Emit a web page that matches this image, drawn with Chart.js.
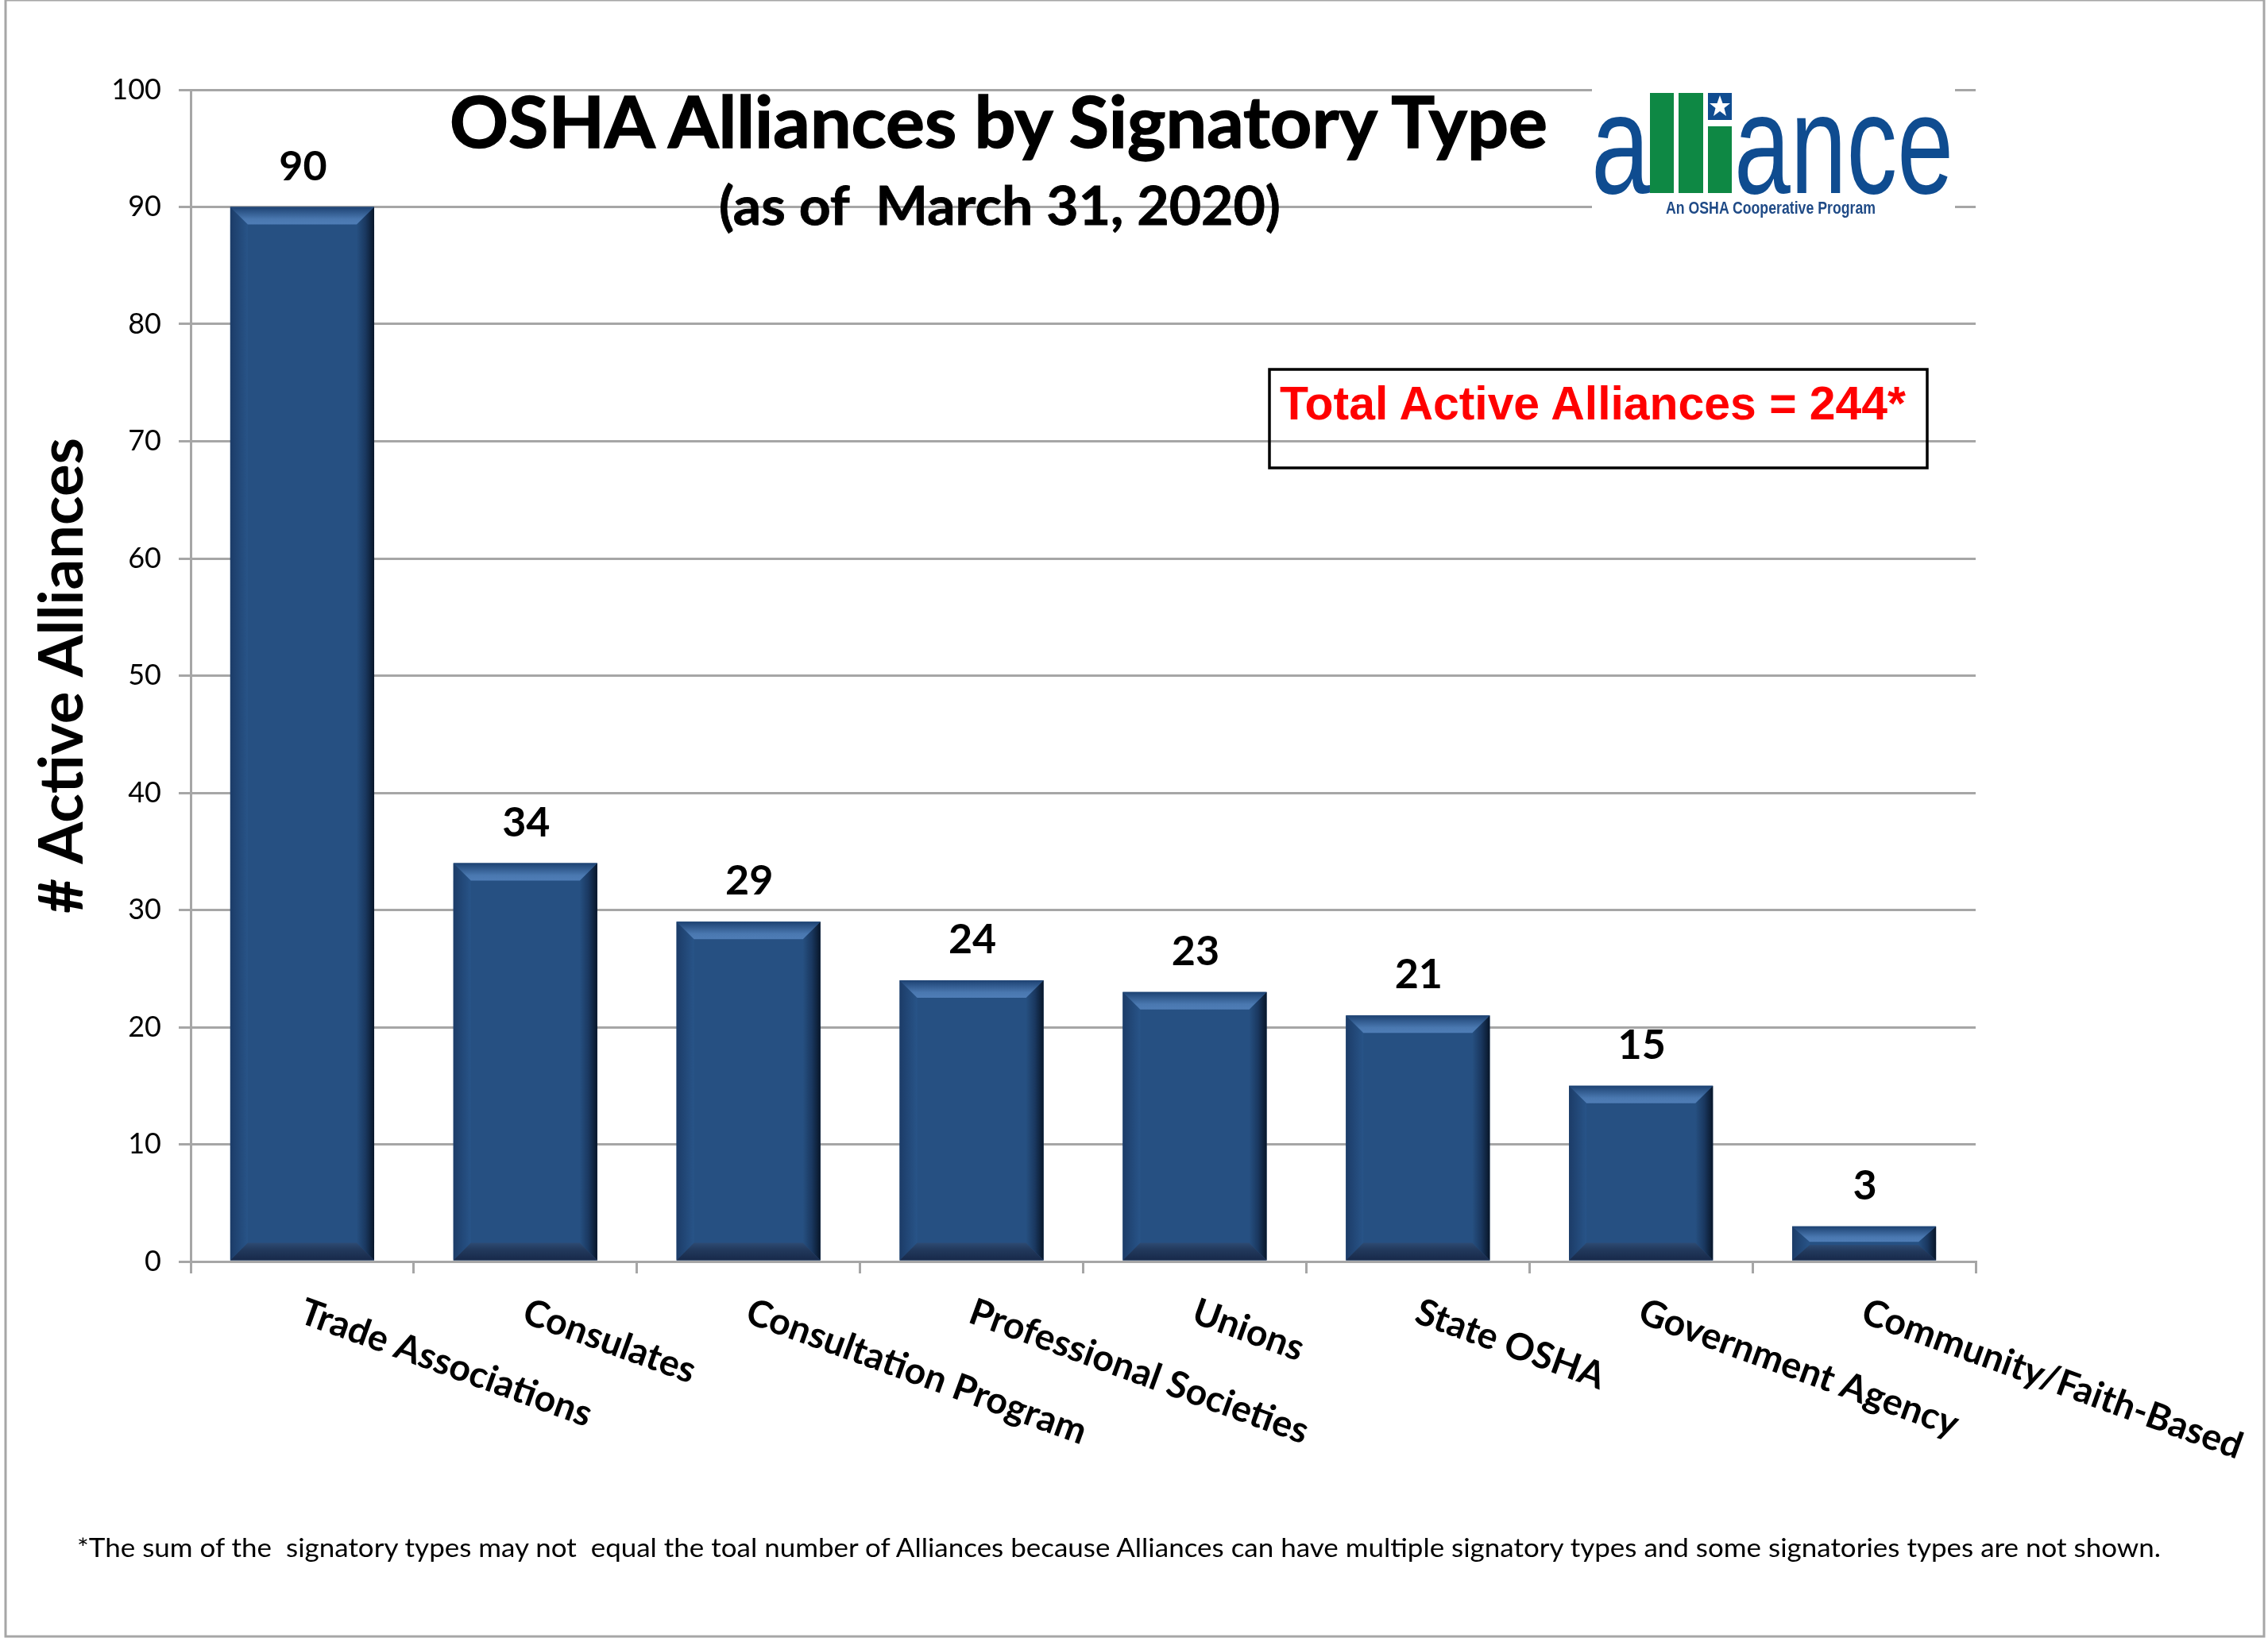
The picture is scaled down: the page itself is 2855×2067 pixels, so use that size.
<!DOCTYPE html>
<html>
<head>
<meta charset="utf-8">
<title>OSHA Alliances by Signatory Type</title>
<script src="https://cdn.jsdelivr.net/npm/chart.js@4/dist/chart.umd.min.js"></script>
<style>
html, body { margin: 0; padding: 0; background: #fff; }
#wrap { position: relative; width: 2855px; height: 2067px; overflow: hidden; }
#myChart { position: absolute; left: 0; top: 0; }
#notes { position: absolute; left: 0; top: 0; }
#notes text { white-space: pre; }
</style>
</head>
<body>
<div id="wrap">
<canvas id="myChart" width="2855" height="2067"></canvas>
<svg id="notes" width="2855" height="2067" xmlns="http://www.w3.org/2000/svg">
  <rect x="7" y="0" width="2843" height="2060" fill="none" stroke="#a6a6a6" stroke-width="3"/>

  <text x="566" y="186" font-family="Lato" font-weight="700" font-size="90" fill="#000" stroke="#000" stroke-width="1.4" textLength="1382" lengthAdjust="spacingAndGlyphs">OSHA Alliances by Signatory Type</text>
  <text x="905" y="283" font-family="Lato" font-weight="700" font-size="66" fill="#000" stroke="#000" stroke-width="0.8" textLength="707" lengthAdjust="spacingAndGlyphs">(as of  March 31, 2020)</text>

  <rect x="2004" y="105" width="457" height="180" fill="#fff"/>
  <text x="2003" y="243" font-family="Liberation Sans" font-size="178" fill="#0f4c90" textLength="74" lengthAdjust="spacingAndGlyphs">a</text>
  <rect x="2077" y="117" width="30" height="126" fill="#0e8844"/>
  <rect x="2113" y="117" width="31" height="126" fill="#0e8844"/>
  <rect x="2150" y="159" width="30" height="84" fill="#0e8844"/>
  <rect x="2150" y="117" width="30" height="34" fill="#0f4c90"/>
  <polygon points="2165,120 2168.5,130 2178,130 2170.5,136 2173,146 2165,140 2157,146 2159.5,136 2152,130 2161.5,130" fill="#fff"/>
  <text x="2183" y="243" font-family="Liberation Sans" font-size="178" fill="#0f4c90" textLength="276" lengthAdjust="spacingAndGlyphs">ance</text>
  <text x="2097" y="269" font-family="Liberation Sans" font-weight="700" font-size="22" fill="#1f4a86" textLength="264" lengthAdjust="spacingAndGlyphs">An OSHA Cooperative Program</text>

  <rect x="1598" y="465" width="828" height="124" fill="none" stroke="#000" stroke-width="3.5"/>
  <text x="1611" y="528" font-family="Liberation Sans" font-weight="700" font-size="59" fill="#ff0000" textLength="788" lengthAdjust="spacingAndGlyphs">Total Active Alliances = 244*</text>

  <text x="97" y="1960" font-family="Lato" font-size="33" fill="#000" textLength="2623" lengthAdjust="spacingAndGlyphs">*The sum of the  signatory types may not  equal the toal number of Alliances because Alliances can have multiple signatory types and some signatories types are not shown.</text>
</svg>
</div>
<script>
var categories = ['Trade Associations', 'Consulates', 'Consultation Program', 'Professional Societies', 'Unions', 'State OSHA', 'Government Agency', 'Community/Faith-Based'];
var alliances = [90, 34, 29, 24, 23, 21, 15, 3];
var yTicks = [0, 10, 20, 30, 40, 50, 60, 70, 80, 90, 100];

var gridGray = '#a6a6a6';

function linear(ctx, x0, y0, x1, y1, stops) {
    var g = ctx.createLinearGradient(x0, y0, x1, y1);
    stops.forEach(function (s) { g.addColorStop(s[0], s[1]); });
    return g;
}

function poly(ctx, pts, fill) {
    ctx.beginPath();
    ctx.moveTo(pts[0][0], pts[0][1]);
    for (var i = 1; i < pts.length; i++) ctx.lineTo(pts[i][0], pts[i][1]);
    ctx.closePath();
    ctx.fillStyle = fill;
    ctx.fill();
}

// bevel on the bars, like the office "3-D" bar style
var bevelBars = {
    id: 'bevelBars',
    afterDatasetsDraw: function (chart) {
        var ctx = chart.ctx;
        chart.getDatasetMeta(0).data.forEach(function (bar) {
            var l = bar.x - bar.width / 2, r = bar.x + bar.width / 2, t = bar.y, b = bar.base;
            var s = Math.min(22, (b - t) / 2 - 2);
            var side = 22;
            ctx.save();
            poly(ctx, [[l, t], [l + side, t + s], [l + side, b - s], [l, b]],
                linear(ctx, l, 0, l + side, 0, [[0, '#1c3c68'], [1, '#285488']]));
            poly(ctx, [[r, t], [r - side, t + s], [r - side, b - s], [r, b]],
                linear(ctx, r, 0, r - side, 0, [[0, '#081629'], [0.5, '#1a3860'], [1, '#265081']]));
            poly(ctx, [[l, t], [r, t], [r - side, t + s], [l + side, t + s]],
                linear(ctx, 0, t, 0, t + s, [[0, '#1d4272'], [0.7, '#4a78b0'], [1, '#4f7db6']]));
            poly(ctx, [[l, b], [r, b], [r - side, b - s], [l + side, b - s]],
                linear(ctx, 0, b, 0, b - s, [[0, '#17294a'], [0.6, '#22395c'], [1, '#2d4a72']]));
            ctx.restore();
        });
    },
};

// value above each bar and slanted category names going down to the right
var barText = {
    id: 'barText',
    afterDraw: function (chart) {
        var ctx = chart.ctx;
        var xScale = chart.scales.x;
        var bottom = chart.chartArea.bottom;
        ctx.save();
        ctx.fillStyle = '#000';
        ctx.textBaseline = 'alphabetic';
        chart.getDatasetMeta(0).data.forEach(function (bar, i) {
            ctx.font = '700 52px Lato';
            ctx.textAlign = 'center';
            ctx.fillText(String(alliances[i]), bar.x + 1, bar.y - 34);

            ctx.save();
            ctx.translate(xScale.getPixelForTick(i) - 6, bottom + 76);
            ctx.rotate(20 * Math.PI / 180);
            ctx.font = '700 46.5px Lato';
            ctx.textAlign = 'left';
            ctx.fillText(categories[i], 0, 0);
            ctx.restore();
        });
        ctx.restore();
    },
};

var ctx = document.getElementById('myChart').getContext('2d');
var myChart = new Chart(ctx, {
    type: 'bar',
    data: {
        labels: categories,
        datasets: [
            {
                data: alliances,
                label: '# Active Alliances',
                backgroundColor: '#265082',
                categoryPercentage: 0.645,
                barPercentage: 1,
            },
        ],
    },
    options: {
        responsive: false,
        animation: false,
        devicePixelRatio: 1,
        layout: { padding: { left: 0, top: 113, right: 368, bottom: 0 } },
        plugins: {
            legend: { display: false },
            title: { display: false },
            tooltip: { enabled: false },
        },
        scales: {
            x: {
                afterFit: function (scale) { scale.height = 479; },
                grid: { drawOnChartArea: false, color: gridGray, lineWidth: 3, tickLength: 15 },
                border: { color: gridGray, width: 3 },
                ticks: { display: false },
            },
            y: {
                min: 0,
                max: 100,
                afterFit: function (scale) { scale.width = 240; },
                afterBuildTicks: function (scale) {
                    scale.ticks = yTicks.map(function (v) { return { value: v }; });
                },
                title: {
                    display: true,
                    text: '# Active Alliances',
                    color: '#000',
                    font: { family: 'Lato', size: 76, weight: '700' },
                    padding: { top: 34, bottom: 0 },
                },
                grid: { color: gridGray, lineWidth: 3, tickLength: 15 },
                border: { color: gridGray, width: 3 },
                ticks: {
                    color: '#000',
                    font: { family: 'Lato', size: 36 },
                    padding: 22,
                },
            },
        },
    },
    plugins: [bevelBars, barText],
});
</script>
</body>
</html>
